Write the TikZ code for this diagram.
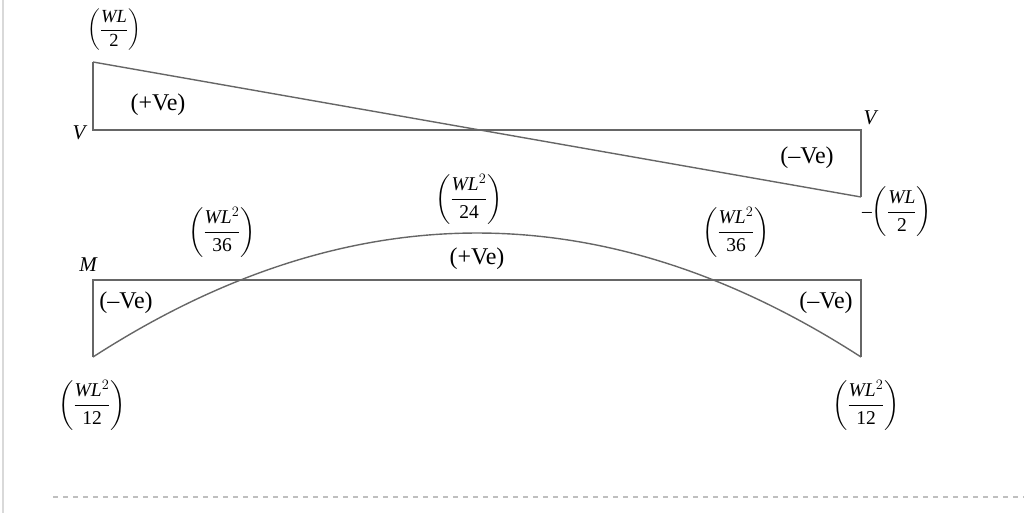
\documentclass[tikz,border=0pt]{standalone}
\usepackage{amsmath}
\usepackage{fontspec}
\setmainfont{Liberation Serif}
\begin{document}
\begin{tikzpicture}[x=1pt,y=-1pt,
  diag/.style={draw=black!60, line width=1.4pt},
  lbl/.style={inner sep=0pt, font=\fontsize{24}{28}\selectfont},
  frac/.style={inner sep=0pt, font=\fontsize{19.5}{23}\selectfont},
  sym/.style={inner sep=0pt, font=\fontsize{21}{25}\selectfont\itshape}]
\useasboundingbox (0,0) rectangle (1024,513);
\draw[black!15, line width=1.2pt] (3,0) -- (3,513);
\draw[black!25, line width=1.5pt, dash pattern=on 5pt off 5pt] (53,497) -- (1024,497);
% shear force diagram
\coordinate (s0) at (93,130);
\coordinate (s1) at (861,130);
\coordinate (sA) at (93,62);
\coordinate (sB) at (861,197);
\draw[diag] (sA) -- (s0) -- (s1) -- (sB);
\draw[diag] (sA) -- (sB);
\node[frac, anchor=north, font=\fontsize{18.5}{22}\selectfont] (wl2a) at (114,9) {$\left(\dfrac{\textit{WL}}{\mathrm{2}}\right)$};
\node[lbl] (pve1) at (158,105) {(+Ve)};
\node[sym] (v1) at (79,133) {V};
\node[sym] (v2) at (870,118) {V};
\node[lbl] (nve1) at (807,158) {(\textendash Ve)};
\node[frac] (wl2b) at (897,212) {\textendash$\left(\dfrac{\textit{WL}}{\mathrm{2}}\right)$};
% bending moment diagram
\coordinate (m0) at (93,280);
\coordinate (m1) at (861,280);
\coordinate (mA) at (93,357);
\coordinate (mB) at (861,357);
\draw[diag] (mA) -- (m0) -- (m1) -- (mB);
\draw[diag] (mA) .. controls (349,191.7) and (605,191.7) .. (mB);
\node[sym] (m) at (88,265) {M};
\node[frac] (w36a) at (222,232) {$\left(\dfrac{\textit{WL}^{2}}{\mathrm{36}}\right)$};
\node[frac] (w24) at (469,199) {$\left(\dfrac{\textit{WL}^{2}}{\mathrm{24}}\right)$};
\node[lbl] (pve2) at (477,259) {(+Ve)};
\node[frac] (w36b) at (736,232) {$\left(\dfrac{\textit{WL}^{2}}{\mathrm{36}}\right)$};
\node[lbl] (nve2) at (126,303) {(\textendash Ve)};
\node[lbl] (nve3) at (826,303) {(\textendash Ve)};
\node[frac] (w12a) at (92,405) {$\left(\dfrac{\textit{WL}^{2}}{\mathrm{12}}\right)$};
\node[frac] (w12b) at (866,405) {$\left(\dfrac{\textit{WL}^{2}}{\mathrm{12}}\right)$};
\end{tikzpicture}
\end{document}
